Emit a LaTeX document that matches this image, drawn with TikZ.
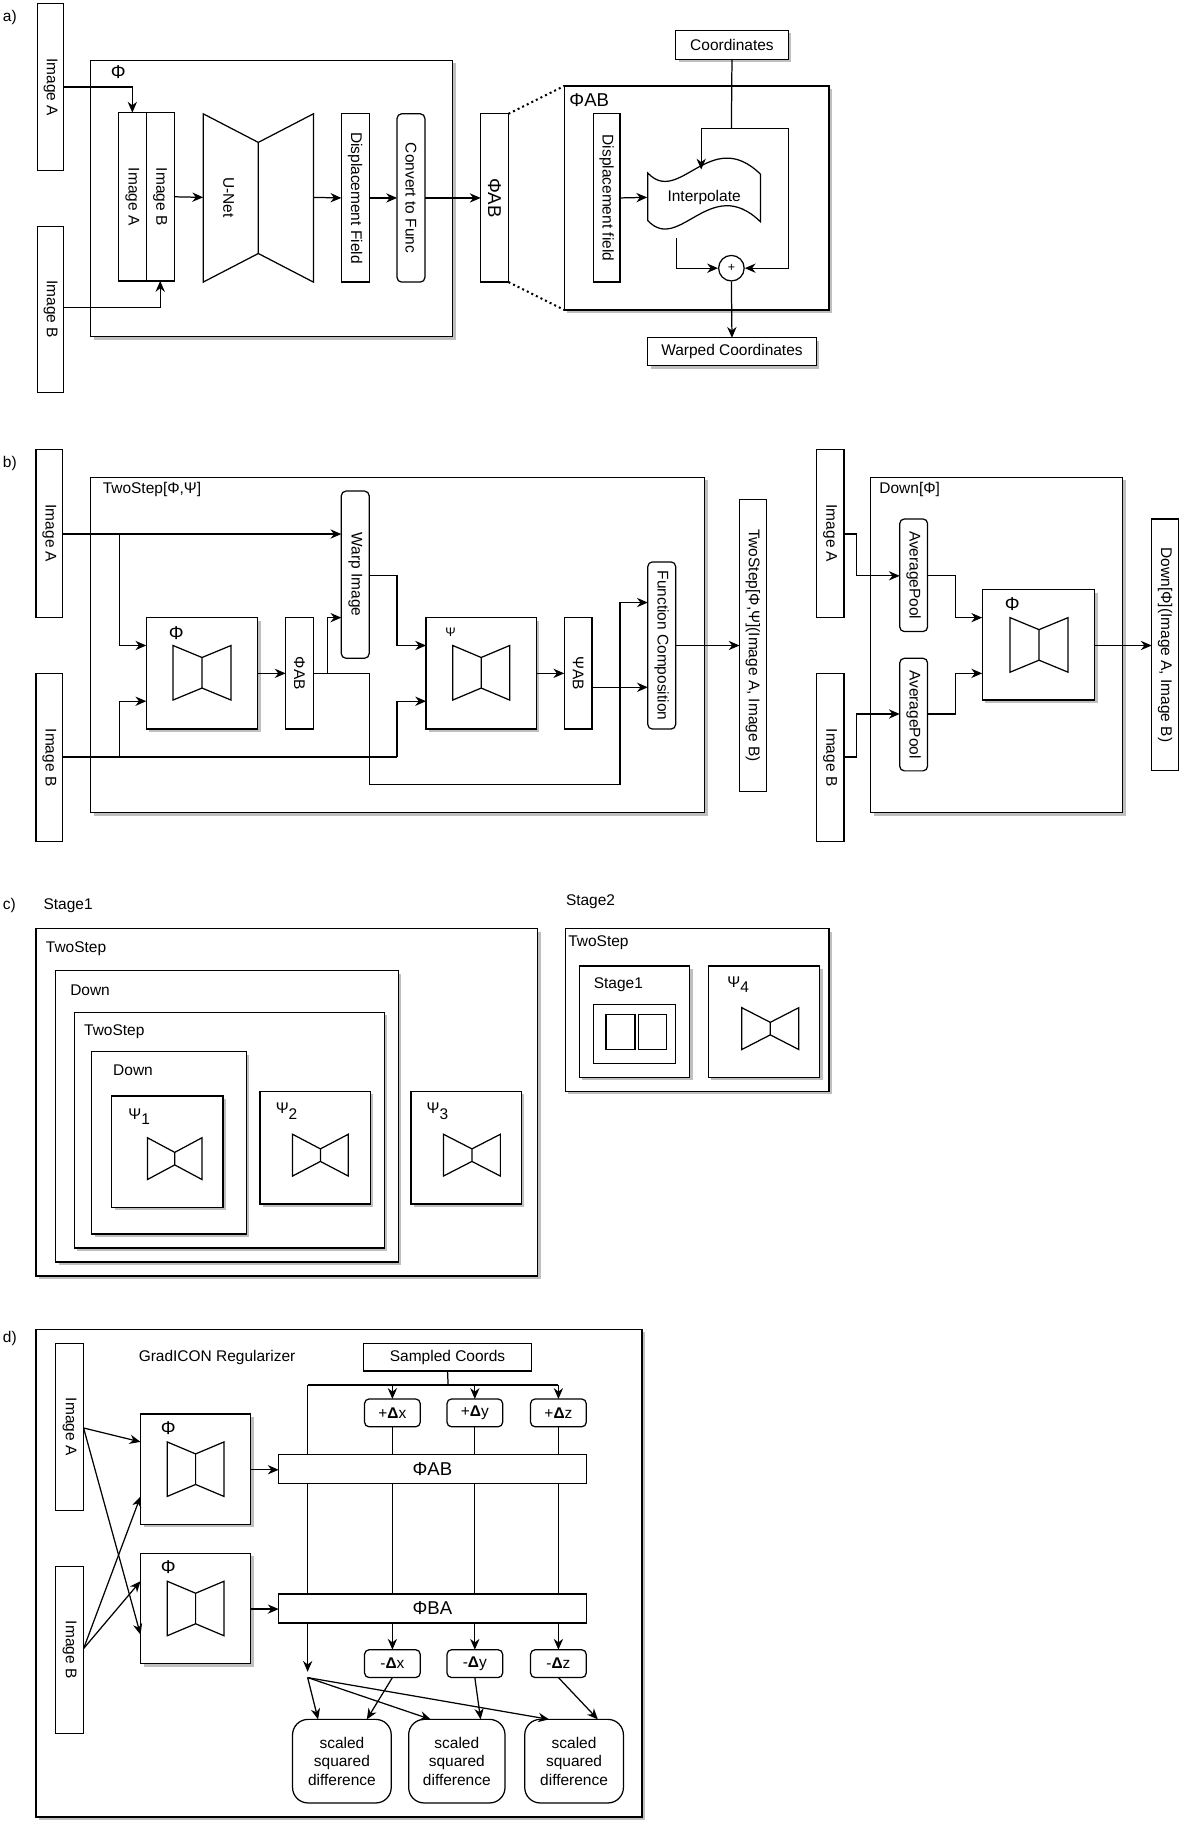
\documentclass[tikz,border=0pt]{standalone}
\usepackage{fontspec}
\setmainfont{Liberation Sans}
\usetikzlibrary{arrows.meta,shadows}
\newcommand\bx[7]{\node[#6, minimum width={(#4-#2)*0.75pt}, minimum height={(#5-#3)*0.75pt}] (#1) at ({(#2+#4)/2},{(#3+#5)/2}) {#7};}
\newcommand\rbx[7]{\node[#6, rotate=-90, minimum width={(#5-#3)*0.75pt}, minimum height={(#4-#2)*0.75pt}] (#1) at ({(#2+#4)/2},{(#3+#5)/2}) {#7};}
\newcommand\hg[5]{\draw[fill=white] (#1,#2) -- ({(#1+#3)/2},{#2+(#4-#2)*#5}) -- (#3,#2) -- (#3,#4) -- ({(#1+#3)/2},{#4-(#4-#2)*#5}) -- (#1,#4) -- cycle ({(#1+#3)/2},{#2+(#4-#2)*#5}) -- ({(#1+#3)/2},{#4-(#4-#2)*#5});}
\begin{document}
\begin{tikzpicture}[x=0.75pt,y=-0.75pt,line width=0.8pt,
  font=\fontsize{10}{12}\selectfont,
  box/.style={draw,fill=white,inner sep=1pt,outer sep=0pt,align=center},
  rbox/.style={box,rounded corners=3pt},
  sh/.style={drop shadow={shadow xshift=2pt,shadow yshift=-2pt,fill=black!25,opacity=1}},
  lab/.style={anchor=west,inner sep=0pt},
  arr/.style={-{Stealth[length=7pt,width=6pt]}}]
\useasboundingbox (0,0) rectangle (1020,1572);
\fill[white] (0,0) rectangle (1020,1572);
% ---------------- a)
\node[lab] at (2,15) {a)};
\rbx{aA}{32}{3}{55}{147}{box}{Image A}
\rbx{aB}{32}{195}{55}{338}{box}{Image B}
\bx{aPhi}{78}{52}{390}{290}{box,sh}{}
\node[lab] at (95,62) {\fontsize{12}{14}\selectfont Φ};
\rbx{aIA}{102}{97}{126}{242}{box}{Image A}
\rbx{aIB}{126}{97}{150}{242}{box}{Image B}
\hg{175}{98}{270}{243}{0.17}
\node[rotate=-90] (unet) at (197,170) {U-Net};
\coordinate (unetL) at (175,170);
\coordinate (unetR) at (270,170);
\rbx{aDF}{294}{98}{318}{243}{box}{Displacement Field}
\rbx{aCF}{342}{98}{366}{243}{rbox}{Convert to Func}
\rbx{aAB}{414}{98}{438}{243}{box}{\fontsize{12}{14}\selectfont ΦAB}
\bx{aBig}{486}{74}{714}{267}{box,sh}{}
\node[lab] at (490,86) {\fontsize{12}{14}\selectfont ΦAB};
\rbx{aDf2}{511}{98}{534}{243}{box}{Displacement field}
\draw[fill=white] (558,149) .. controls (585,178) and (612,108) .. (655,150) -- (655,191) .. controls (612,149) and (585,219) .. (558,190) -- cycle;
\node[minimum width=72.75pt,minimum height=30pt,inner sep=0pt] (interp) at (606.5,170) {Interpolate};
\bx{coord}{582}{26}{679}{51}{box,sh}{Coordinates}
\node[circle,draw,fill=white,minimum size=16.5pt,inner sep=0pt,font=\fontsize{8}{9}\selectfont] (plus) at (630,231) {+};
\bx{warp}{558}{291}{703}{315}{box,sh}{Warped Coordinates}
\draw[arr] (aA.north |- 0,75) -| (aIA.west);
\draw[arr] (aB.north |- 0,265) -| (aIB.east);
\draw[arr] (aIB.north) -- (unetL);
\draw[arr] (unetR) -- (aDF.south);
\draw[arr] (aDF.north) -- (aCF.south);
\draw[arr] (aCF.north) -- (aAB.south);
\draw[dotted,line width=1.3pt] (aAB.north west) -- (aBig.north west);
\draw[dotted,line width=1.3pt] (aAB.north east) -- (aBig.south west);
\draw[arr] (aDf2.north) -- (interp.west);
\draw (coord.south) -- (630,111) coordinate (cj);
\draw[arr] (cj) -| (604,146);
\draw[arr] (cj) -| (679,231) -- (plus.east);
\draw[arr] (583,205) |- (plus.west);
\draw[arr] (plus.south) -- (warp.north);
% ---------------- b)
\node[lab] at (2,399) {b)};
\rbx{bA}{31}{387}{54}{532}{box}{Image A}
\rbx{bB}{31}{580}{54}{725}{box}{Image B}
\bx{bTS}{78}{411}{607}{700}{box,sh}{}
\node[lab] at (88,422) {TwoStep[Φ,Ψ]};
\rbx{bW}{294}{423}{318}{567}{rbox}{Warp Image}
\bx{bPhi}{126}{532}{222}{628}{box,sh}{}
\node[lab] at (145,545) {\fontsize{12}{14}\selectfont Φ};
\hg{149}{556}{199}{603}{0.22}
\rbx{bPAB}{246}{532}{270}{628}{box}{ΦAB}
\bx{bPsi}{367}{532}{462}{628}{box,sh}{}
\node[lab] at (383,545) {\fontsize{8}{9}\selectfont Ψ};
\hg{390}{556}{439}{603}{0.22}
\rbx{bPsAB}{486}{532}{510}{628}{box}{ΨAB}
\rbx{bFC}{558}{484}{582}{628}{rbox}{Function Composition}
\rbx{bOut}{637}{430}{660}{682}{box}{TwoStep[Φ,Ψ](Image A, Image B)}
\draw[arr] (bA.north |- 0,460) -- (bW.south |- 0,460);
\draw[arr] (103,460) |- (bPhi.west |- 0,556);
\draw (bB.north |- 0,652) -- (342,652);
\draw[arr] (103,652) |- (bPhi.west |- 0,604);
\draw[arr] (342,652) |- (bPsi.west |- 0,604);
\draw[arr] (bPhi.east |- 0,580) -- (bPAB.south);
\draw[arr] (bPAB.north) -- (282,580) |- (bW.south |- 0,532);
\draw[arr] (bPAB.north) -- (318,580) -- (318,676) -- (534,676) -- (534,519) -- (bFC.south |- 0,519);
\draw[arr] (bW.north |- 0,496) -| (342,556) -- (bPsi.west |- 0,556);
\draw[arr] (bPsi.east |- 0,580) -- (bPsAB.south);
\draw[arr] (bPsAB.north |- 0,592) -- (bFC.south |- 0,592);
\draw[arr] (bFC.north |- 0,556) -- (bOut.south |- 0,556);
% Down
\rbx{dA}{703}{387}{727}{532}{box}{Image A}
\rbx{dB}{703}{580}{727}{725}{box}{Image B}
\bx{dD}{750}{411}{967}{700}{box,sh}{}
\node[lab] at (757,422) {Down[Φ]};
\rbx{ap1}{775}{447}{799}{544}{rbox}{AveragePool}
\rbx{ap2}{775}{567}{799}{664}{rbox}{AveragePool}
\bx{dPhi}{846}{508}{943}{603}{box,sh}{}
\node[lab] at (865,520) {\fontsize{12}{14}\selectfont Φ};
\hg{870}{532}{920}{579}{0.22}
\rbx{dOut}{992}{447}{1015}{664}{box}{Down[Φ](Image A, Image B)}
\draw[arr] (dA.north |- 0,460) -- (738,460) |- (ap1.south |- 0,496);
\draw[arr] (ap1.north |- 0,496) -- (823,496) |- (dPhi.west |- 0,532);
\draw[arr] (dB.north |- 0,652) -- (738,652) |- (ap2.south |- 0,615);
\draw[arr] (ap2.north |- 0,615) -- (823,615) |- (dPhi.west |- 0,580);
\draw[arr] (dPhi.east |- 0,556) -- (dOut.south |- 0,556);
% ---------------- c)
\node[lab] at (2,780) {c)};
\node[lab] at (37,780) {Stage1};
\node[lab] at (487,777) {Stage2};
\bx{c1}{31}{800}{463}{1099}{box,sh}{}
\node[lab] at (39,817) {TwoStep};
\bx{c2}{48}{836}{343}{1087}{box,sh}{}
\node[lab] at (60,853) {Down};
\bx{c3}{64}{872}{331}{1075}{box,sh}{}
\node[lab] at (72,889) {TwoStep};
\bx{c4}{79}{906}{212}{1063}{box,sh}{}
\node[lab] at (97,922) {Down};
\bx{c5}{96}{944}{192}{1040}{box,sh}{}
\node[lab] at (110,962) {Ψ\textsubscript{\fontsize{10}{12}\selectfont 1}};
\hg{127}{980}{174}{1016}{0.35}
\bx{c6}{224}{940}{319}{1037}{box,sh}{}
\node[lab] at (237,957) {Ψ\textsubscript{\fontsize{10}{12}\selectfont 2}};
\hg{252}{977}{300}{1013}{0.35}
\bx{c7}{354}{940}{449}{1037}{box,sh}{}
\node[lab] at (367,957) {Ψ\textsubscript{\fontsize{10}{12}\selectfont 3}};
\hg{382}{977}{431}{1013}{0.35}
\bx{s2}{487}{800}{714}{940}{box,sh}{}
\node[lab] at (489,812) {TwoStep};
\bx{s2a}{499}{832}{594}{928}{box,sh}{}
\node[lab] at (511,848) {Stage1};
\bx{s2i}{511}{865}{582}{916}{box}{}
\bx{s2l}{522}{874}{547}{904}{box}{}
\bx{s2r}{550}{874}{574}{904}{box}{}
\bx{s2b}{610}{832}{706}{928}{box,sh}{}
\node[lab] at (626,848) {Ψ\textsubscript{\fontsize{10}{12}\selectfont 4}};
\hg{639}{868}{688}{904}{0.35}
% ---------------- d)
\node[lab] at (2,1153) {d)};
\bx{dbox}{31}{1145}{553}{1565}{box,sh}{}
\node[lab] at (119,1169) {GradICON Regularizer};
\bx{sc}{313}{1157}{458}{1181}{box}{Sampled Coords}
\rbx{gA}{48}{1157}{72}{1301}{box}{Image A}
\rbx{gB}{48}{1349}{72}{1493}{box}{Image B}
\bx{gP1}{121}{1218}{216}{1313}{box,sh}{}
\node[lab] at (138,1230) {\fontsize{12}{14}\selectfont Φ};
\hg{144}{1242}{193}{1289}{0.22}
\bx{gP2}{121}{1338}{216}{1433}{box,sh}{}
\node[lab] at (138,1350) {\fontsize{12}{14}\selectfont Φ};
\hg{144}{1362}{193}{1409}{0.22}
\bx{gAB}{240}{1253}{505}{1278}{box}{\fontsize{12}{14}\selectfont ΦAB}
\bx{gBA}{240}{1373}{505}{1398}{box}{\fontsize{12}{14}\selectfont ΦBA}
\bx{px}{314}{1205}{362}{1229}{rbox}{+\textbf{Δ}x}
\bx{py}{385}{1205}{433}{1229}{rbox}{+\textbf{Δ}y}
\bx{pz}{457}{1205}{505}{1229}{rbox}{+\textbf{Δ}z}
\bx{mx}{314}{1421}{362}{1445}{rbox}{-\textbf{Δ}x}
\bx{my}{385}{1421}{433}{1445}{rbox}{-\textbf{Δ}y}
\bx{mz}{457}{1421}{505}{1445}{rbox}{-\textbf{Δ}z}
\bx{s1}{252}{1481}{337}{1553}{box,rounded corners=10pt}{scaled\\squared\\difference}
\bx{s2d}{352}{1481}{435}{1553}{box,rounded corners=10pt}{scaled\\squared\\difference}
\bx{s3}{452}{1481}{537}{1553}{box,rounded corners=10pt}{scaled\\squared\\difference}
\draw (sc.south) -- (386,1193) coordinate (sj);
\draw (265,1193) -- (481,1193);
\draw[arr] (px.north |- 0,1193) -- (px.north);
\draw[arr] (py.north |- 0,1193) -- (py.north);
\draw[arr] (pz.north |- 0,1193) -- (pz.north);
\draw (265,1193) -- (265,1253);
\draw (265,1278) -- (265,1373);
\draw[arr] (265,1398) -- (265,1440) coordinate (fan);
\draw (px.south) -- (px.south |- gAB.north);
\draw (py.south) -- (py.south |- gAB.north);
\draw (pz.south) -- (pz.south |- gAB.north);
\draw (px.south |- gAB.south) -- (px.south |- gBA.north);
\draw (py.south |- gAB.south) -- (py.south |- gBA.north);
\draw (pz.south |- gAB.south) -- (pz.south |- gBA.north);
\draw[arr] (mx.north |- gBA.south) -- (mx.north);
\draw[arr] (my.north |- gBA.south) -- (my.north);
\draw[arr] (mz.north |- gBA.south) -- (mz.north);
\coordinate (fo) at (265,1445);
\draw[arr] (fo) -- (274,1481);
\draw[arr] (fo) -- (371,1481);
\draw[arr] (fo) -- (473,1481);
\draw[arr] (mx.south) -- (316,1481);
\draw[arr] (my.south) -- (414,1481);
\draw[arr] (mz.south) -- (515,1481);
\draw[arr] (gA.north |- 0,1230) -- (gP1.west |- 0,1242);
\draw[arr] (gA.north |- 0,1230) -- (gP2.west |- 0,1408);
\draw[arr] (gB.north |- 0,1420) -- (gP1.west |- 0,1289);
\draw[arr] (gB.north |- 0,1420) -- (gP2.west |- 0,1362);
\draw[arr] (gP1.east |- 0,1266) -- (gAB.west |- 0,1266);
\draw[arr] (gP2.east |- 0,1386) -- (gBA.west |- 0,1386);
\end{tikzpicture}
\end{document}
